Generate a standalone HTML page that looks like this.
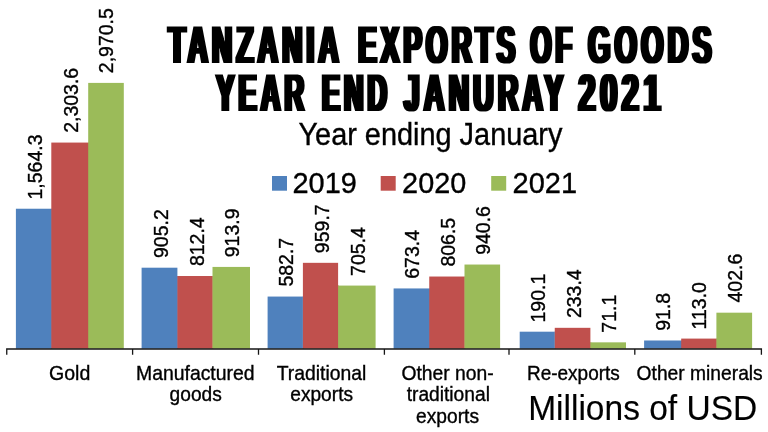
<!DOCTYPE html>
<html lang="en"><head><meta charset="utf-8"><title>Tanzania exports of goods</title>
<style>html,body{margin:0;padding:0;background:#fff}body{width:768px;height:432px;overflow:hidden}svg{display:block}text{font-family:"Liberation Sans",Arial,sans-serif;fill:#000}.r text{stroke:#000;stroke-width:.35px}.r text.b{stroke-width:.15px}</style>
</head><body>
<svg width="768" height="432" viewBox="0 0 768 432">
<rect width="768" height="432" fill="#fff"/>
<rect x="15.90" y="208.73" width="35.40" height="139.97" fill="#4f81bd"/>
<rect x="51.10" y="208.73" width="1" height="139.97" fill="#4f81bd"/>
<rect x="51.30" y="142.57" width="36.90" height="206.13" fill="#c0504d"/>
<rect x="88.00" y="142.57" width="1" height="206.13" fill="#c0504d"/>
<rect x="88.20" y="82.90" width="35.60" height="265.80" fill="#9bbb59"/>
<rect x="141.60" y="267.70" width="35.80" height="81.00" fill="#4f81bd"/>
<rect x="177.20" y="276.01" width="1" height="72.69" fill="#4f81bd"/>
<rect x="177.40" y="276.01" width="35.10" height="72.69" fill="#c0504d"/>
<rect x="212.30" y="276.01" width="1" height="72.69" fill="#c0504d"/>
<rect x="212.50" y="266.92" width="37.50" height="81.78" fill="#9bbb59"/>
<rect x="267.60" y="296.56" width="35.30" height="52.14" fill="#4f81bd"/>
<rect x="302.70" y="296.56" width="1" height="52.14" fill="#4f81bd"/>
<rect x="302.90" y="262.83" width="35.20" height="85.87" fill="#c0504d"/>
<rect x="337.90" y="285.58" width="1" height="63.12" fill="#c0504d"/>
<rect x="338.10" y="285.58" width="37.50" height="63.12" fill="#9bbb59"/>
<rect x="393.60" y="288.44" width="35.65" height="60.26" fill="#4f81bd"/>
<rect x="429.05" y="288.44" width="1" height="60.26" fill="#4f81bd"/>
<rect x="429.25" y="276.53" width="35.25" height="72.17" fill="#c0504d"/>
<rect x="464.30" y="276.53" width="1" height="72.17" fill="#c0504d"/>
<rect x="464.50" y="264.54" width="35.60" height="84.16" fill="#9bbb59"/>
<rect x="519.70" y="331.69" width="35.05" height="17.01" fill="#4f81bd"/>
<rect x="554.55" y="331.69" width="1" height="17.01" fill="#4f81bd"/>
<rect x="554.75" y="327.82" width="35.65" height="20.88" fill="#c0504d"/>
<rect x="590.20" y="342.34" width="1" height="6.36" fill="#c0504d"/>
<rect x="590.40" y="342.34" width="35.60" height="6.36" fill="#9bbb59"/>
<rect x="644.10" y="340.49" width="37.10" height="8.21" fill="#4f81bd"/>
<rect x="681.00" y="340.49" width="1" height="8.21" fill="#4f81bd"/>
<rect x="681.20" y="338.59" width="35.20" height="10.11" fill="#c0504d"/>
<rect x="716.20" y="338.59" width="1" height="10.11" fill="#c0504d"/>
<rect x="716.40" y="312.68" width="35.70" height="36.02" fill="#9bbb59"/>
<path d="M6.10 349.00H762.05M6.75 349.00V354.7M132.60 349.00V354.7M258.50 349.00V354.7M384.40 349.00V354.7M509.00 349.00V354.7M634.80 349.00V354.7M761.40 349.00V354.7" fill="none" stroke="#161616" stroke-width="1.3"/>
<g class="r">
<text transform="translate(48.99 379.50) scale(1.0130 1.015)" font-size="19.3">Gold</text>
<text transform="translate(135.99 379.75) scale(1.0056 1.015)" font-size="19.3">Manufactured</text>
<text transform="translate(169.55 401.30) scale(0.9941 1.015)" font-size="19.3">goods</text>
<text transform="translate(276.75 379.75) scale(1.0029 1.015)" font-size="19.3">Traditional</text>
<text transform="translate(290.26 401.40) scale(0.9919 1.015)" font-size="19.3">exports</text>
<text transform="translate(401.40 379.75) scale(1.0011 1.015)" font-size="19.3">Other non-</text>
<text transform="translate(406.65 401.40) scale(0.9963 1.015)" font-size="19.3">traditional</text>
<text transform="translate(416.05 422.90) scale(0.9960 1.015)" font-size="19.3">exports</text>
<text transform="translate(527.03 379.60) scale(0.9832 1.015)" font-size="19.3">Re-exports</text>
<text transform="translate(636.60 379.60) scale(0.9972 1.015)" font-size="19.3">Other minerals</text>
<text transform="translate(298.45 144.90) scale(0.9966 1.05)" font-size="29">Year ending January</text>
<text transform="translate(292.50 193.40) scale(0.9984 1.03)" font-size="29">2019</text>
<text transform="translate(402.11 193.40) scale(0.9943 1.03)" font-size="29">2020</text>
<text transform="translate(512.60 193.40) scale(1.0000 1.03)" font-size="29">2021</text>
<text class="b" transform="translate(528.16 420.30) scale(0.9980 1.025)" font-size="33.6">Millions of USD</text>
</g>
<defs><filter id="hb" x="0" y="0" width="768" height="130" filterUnits="userSpaceOnUse" color-interpolation-filters="sRGB"><feMorphology operator="dilate" radius="2 0"/></filter></defs>
<g font-weight="bold" letter-spacing="8" filter="url(#hb)">
<text transform="translate(168.49 63.20) scale(0.5273 1) skewX(0.05)" font-size="53.0">TANZANIA</text>
<text transform="translate(358.17 63.20) scale(0.5216 1) skewX(0.05)" font-size="53.0">EXPORTS</text>
<text transform="translate(530.46 63.20) scale(0.5084 1) skewX(0.05)" font-size="53.0">OF</text>
<text transform="translate(588.29 63.20) scale(0.5378 1) skewX(0.05)" font-size="53.0">GOODS</text>
<text transform="translate(216.24 110.80) scale(0.5133 1) skewX(0.05)" font-size="53.0">YEAR</text>
<text transform="translate(321.97 110.80) scale(0.5092 1) skewX(0.05)" font-size="53.0">END</text>
<text transform="translate(404.10 110.80) scale(0.5323 1) skewX(0.05)" font-size="53.0">JANURAY</text>
<text transform="translate(578.49 110.80) scale(0.5780 1) skewX(0.05)" font-size="53.0">2021</text>
</g>
<g class="r">
<text transform="translate(41.65 199.53) rotate(-90) scale(1 1.06)" font-size="19.5">1,564.3</text>
<text transform="translate(77.55 132.87) rotate(-90) scale(1 1.06)" font-size="19.5">2,303.6</text>
<text transform="translate(113.45 73.20) rotate(-90) scale(1 1.06)" font-size="19.5">2,970.5</text>
<text transform="translate(167.60 258.00) rotate(-90) scale(1 1.06)" font-size="19.5">905.2</text>
<text transform="translate(203.50 266.06) rotate(-90) scale(1 1.06)" font-size="19.5">812.4</text>
<text transform="translate(239.40 257.22) rotate(-90) scale(1 1.06)" font-size="19.5">913.9</text>
<text transform="translate(293.40 286.61) rotate(-90) scale(1 1.06)" font-size="19.5">582.7</text>
<text transform="translate(329.30 253.13) rotate(-90) scale(1 1.06)" font-size="19.5">959.7</text>
<text transform="translate(365.20 275.88) rotate(-90) scale(1 1.06)" font-size="19.5">705.4</text>
<text transform="translate(418.65 278.74) rotate(-90) scale(1 1.06)" font-size="19.5">673.4</text>
<text transform="translate(454.55 266.58) rotate(-90) scale(1 1.06)" font-size="19.5">806.5</text>
<text transform="translate(490.45 254.84) rotate(-90) scale(1 1.06)" font-size="19.5">940.6</text>
<text transform="translate(544.65 322.49) rotate(-90) scale(1 1.06)" font-size="19.5">190.1</text>
<text transform="translate(580.55 318.12) rotate(-90) scale(1 1.06)" font-size="19.5">233.4</text>
<text transform="translate(616.45 332.64) rotate(-90) scale(1 1.06)" font-size="19.5">71.1</text>
<text transform="translate(669.90 330.79) rotate(-90) scale(1 1.06)" font-size="19.5">91.8</text>
<text transform="translate(705.80 329.39) rotate(-90) scale(1 1.06)" font-size="19.5">113.0</text>
<text transform="translate(741.70 302.48) rotate(-90) scale(1 1.06)" font-size="19.5">402.6</text>
</g>
<rect x="272" y="176" width="15" height="14.7" fill="#4f81bd"/>
<rect x="380.7" y="176" width="15" height="14.7" fill="#c0504d"/>
<rect x="491.2" y="176" width="15" height="14.7" fill="#9bbb59"/>
</svg>
</body></html>
